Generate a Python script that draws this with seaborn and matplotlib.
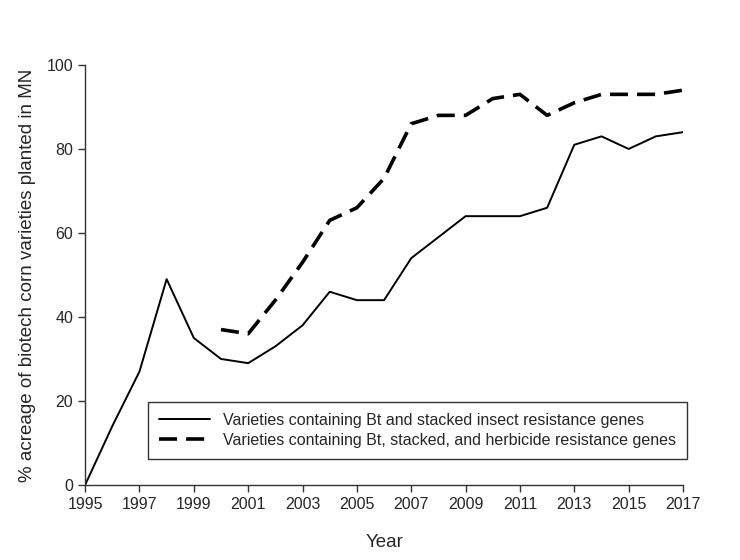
import seaborn as sns
import matplotlib.pyplot as plt
import pandas as pd

years = list(range(1995, 2018))
bt_stacked = [0, 14, 27, 49, 35, 30, 29, 33, 38, 46, 44, 44, 54, 59, 64, 64, 64, 66, 81, 83, 80, 83, 84]
herb_years = list(range(2000, 2018))
bt_herbicide = [37, 36, 44, 53, 63, 66, 73, 86, 88, 88, 92, 93, 88, 91, 93, 93, 93, 94]

label_bt = "Varieties containing Bt and stacked insect resistance genes"
label_herb = "Varieties containing Bt, stacked, and herbicide resistance genes"

sns.set_style("ticks")
plt.rcParams['font.family'] = ['Liberation Sans', 'DejaVu Sans']

fig = plt.figure(figsize=(7.4, 5.6), dpi=100)
ax = fig.add_axes([0.115, 0.134, 0.808, 0.75])

df1 = pd.DataFrame({'Year': years, 'pct': bt_stacked})
df2 = pd.DataFrame({'Year': herb_years, 'pct': bt_herbicide})
sns.lineplot(data=df1, x='Year', y='pct', ax=ax, color='black', linewidth=1.4, label=label_bt)
sns.lineplot(data=df2, x='Year', y='pct', ax=ax, color='black', linewidth=2.6,
             dashes=False, label=label_herb)
ax.lines[1].set_dashes([5, 2.5])

ax.set_xlim(1995, 2017)
ax.set_ylim(0, 100)
ax.set_xticks(range(1995, 2018, 2))
ax.set_yticks(range(0, 101, 20))
ax.tick_params(labelsize=11.5, length=5, width=1, color='#333333')
for s in ['top', 'right']:
    ax.spines[s].set_visible(False)
for s in ['left', 'bottom']:
    ax.spines[s].set_color('#333333')
    ax.spines[s].set_linewidth(1)

ax.set_xlabel('Year', fontsize=13.5, labelpad=16)
ax.set_ylabel('% acreage of biotech corn varieties planted in MN', fontsize=13.5, labelpad=8)

leg = ax.legend(loc='lower left', bbox_to_anchor=(0.092, 0.043), fontsize=11.5,
                frameon=True, fancybox=False, edgecolor='#333333', borderpad=0.7,
                handlelength=3.2, labelspacing=0.3)
leg.get_frame().set_linewidth(1)
leg.get_frame().set_alpha(1)

fig.savefig('out.png', dpi=100)
